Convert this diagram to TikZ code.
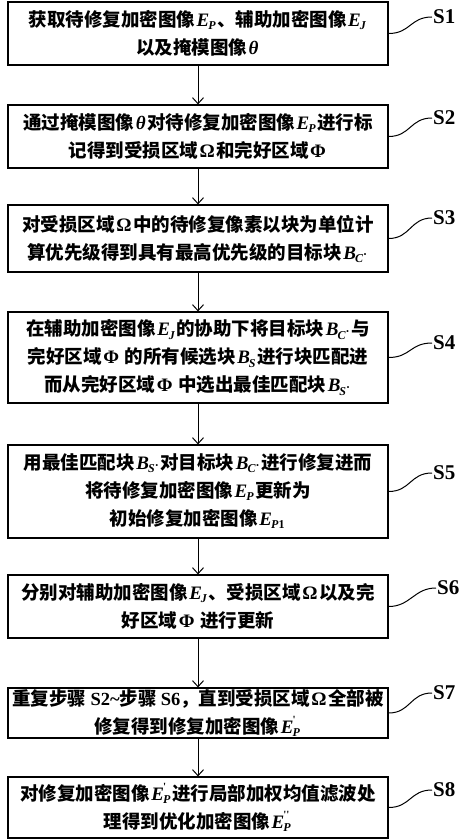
\documentclass[tikz,border=0pt]{standalone}
\usepackage{fontspec}
\setmainfont{Noto Sans CJK SC}
\newfontfamily\latfont{Liberation Serif}
\usetikzlibrary{arrows.meta}
\newcommand{\lt}[1]{{\latfont\bfseries #1}}
% variable with subscript
\newcommand{\vs}[2]{{\kern1.5pt\latfont\bfseries\itshape\fontsize{19}{28}\selectfont #1\kern-1pt\raisebox{-0.35ex}{\fontsize{12}{12}\selectfont #2}\kern1.5pt}}
% variable with subscript and mark above the subscript
\newcommand{\vp}[3]{{\kern1.5pt\latfont\bfseries\itshape\fontsize{19}{28}\selectfont #1\kern-1pt\rlap{\raisebox{1.15ex}{\fontsize{11}{11}\selectfont\upshape #3}}\raisebox{-0.35ex}{\fontsize{12}{12}\selectfont #2}\kern1.5pt}}
% variable with subscript followed by a raised dot
\newcommand{\vd}[2]{{\kern1.5pt\latfont\bfseries\itshape\fontsize{19}{28}\selectfont #1\kern-1pt\raisebox{-0.35ex}{\fontsize{12}{12}\selectfont #2\upshape\raisebox{0.6ex}{·}}\kern1.5pt}}
\newcommand{\gk}[1]{{\kern1.5pt\latfont\bfseries\fontsize{19}{28}\selectfont #1\kern1.5pt}}
\newcommand{\gi}[1]{{\kern1.5pt\latfont\bfseries\itshape\fontsize{19}{28}\selectfont #1\kern1.5pt}}
\begin{document}
\begin{tikzpicture}[x=1pt,y=-1pt,
  box/.style={draw,line width=1.2pt,minimum width=380pt,inner sep=0pt,align=center,
    font=\fontsize{18.5}{28}\selectfont\bfseries},
  lab/.style={font=\latfont\bfseries\fontsize{21}{21}\selectfont,anchor=west,inner sep=1pt},
  flow/.style={line width=1pt,-{Straight Barb[length=6pt,width=11pt,line width=1pt]}},
  lead/.style={line width=1pt}]
\useasboundingbox (0,0) rectangle (474,840);
\node[box,minimum height=63pt] (b1) at (198,33.5) {获取待修复加密图像\vs{E}{P}、辅助加密图像\vs{E}{J}\\以及掩模图像\gi{θ}};
\node[box,minimum height=63pt] (b2) at (198,136.5) {通过掩模图像\gi{θ}对待修复加密图像\vs{E}{P}进行标\\记得到受损区域\gk{Ω}和完好区域\gk{Φ}};
\node[box,minimum height=67pt] (b3) at (198,238.5) {对受损区域\gk{Ω}中的待修复像素以块为单位计\\算优先级得到具有最高优先级的目标块\vd{B}{C}};
\node[box,minimum height=91pt] (b4) at (198,357.5) {在辅助加密图像\vs{E}{J}的协助下将目标块\vd{B}{C}与\\完好区域\gk{Φ} 的所有候选块\vs{B}{S}进行块匹配进\\而从完好区域\gk{Φ} 中选出最佳匹配块\vd{B}{S}};
\node[box,minimum height=93pt] (b5) at (198,491.5) {用最佳匹配块\vd{B}{S}对目标块\vd{B}{C}进行修复进而\\将待修复加密图像\vs{E}{P}更新为\\初始修复加密图像\vs{E}{P\upshape 1}};
\node[box,minimum height=63pt] (b6) at (198,606.5) {分别对辅助加密图像\vs{E}{J}、受损区域\gk{Ω}以及完\\好区域\gk{Φ} 进行更新};
\node[box,minimum height=50pt] (b7) at (198,713) {重复步骤 \lt{S2\textasciitilde}步骤 \lt{S6}，直到受损区域\gk{Ω}全部被\\修复得到修复加密图像\vp{E}{P}{'}};
\node[box,minimum height=61pt] (b8) at (198,807.5) {对修复加密图像\vp{E}{P}{'}进行局部加权均值滤波处\\理得到优化加密图像\vp{E}{P}{''}};
\foreach \a/\b in {b1/b2,b2/b3,b3/b4,b4/b5,b5/b6,b6/b7,b7/b8}
  \draw[flow] (\a.south) -- (\b.north);
\node[lab] (l1) at (432,17) {S1};
\node[lab] (l2) at (432,118) {S2};
\node[lab] (l3) at (432,218) {S3};
\node[lab] (l4) at (432,343) {S4};
\node[lab] (l5) at (432,473) {S5};
\node[lab] (l6) at (436,588) {S6};
\node[lab] (l7) at (432,693) {S7};
\node[lab] (l8) at (432,790) {S8};
\foreach \i in {1,...,8}
  \draw[lead] (b\i.east) .. controls +(22,0) and +(-22,0) .. (l\i.west);
\end{tikzpicture}
\end{document}
